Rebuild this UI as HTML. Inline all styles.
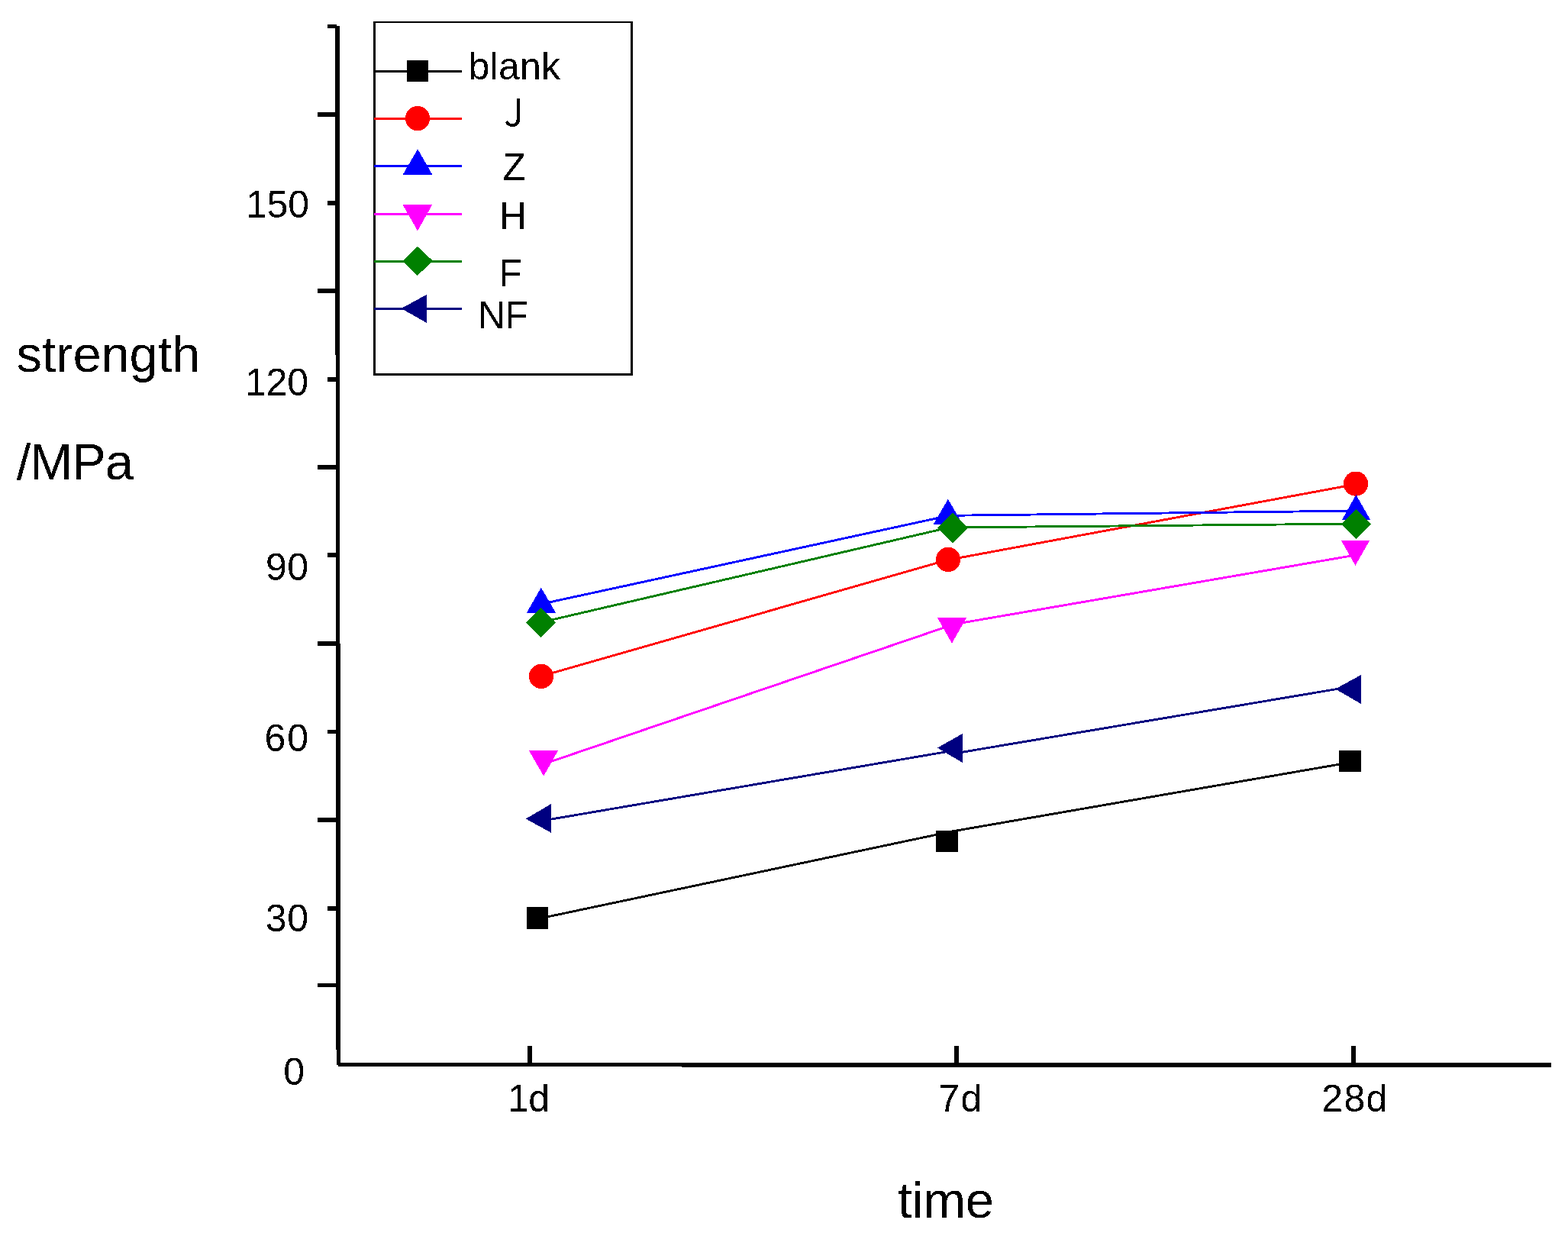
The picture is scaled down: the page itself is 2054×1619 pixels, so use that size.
<!DOCTYPE html>
<html><head><meta charset="utf-8"><title>strength vs time</title>
<style>
html,body{margin:0;padding:0;background:#fff;}
body{width:2054px;height:1619px;overflow:hidden;}
svg{display:block;}
polygon,polyline,line,rect,circle{shape-rendering:crispEdges;}
text{font-family:"Liberation Sans", Arial, Helvetica, sans-serif;fill:#000;filter:url(#bin);}
</style></head>
<body>
<svg width="2054" height="1619" viewBox="0 0 2054 1619">
<defs><filter id="bin" x="0" y="0" width="1" height="1" filterUnits="objectBoundingBox"><feComponentTransfer><feFuncA type="discrete" tableValues="0 1"/></feComponentTransfer></filter></defs>
<rect width="2054" height="1619" fill="#fff"/>
<rect x="439" y="34" width="6" height="431" fill="#000"/>
<rect x="440" y="465" width="5" height="378" fill="#000"/>
<rect x="440" y="843" width="6" height="532" fill="#000"/>
<rect x="441" y="1375" width="5" height="20" fill="#000"/>
<rect x="443" y="1392" width="450" height="5" fill="#000"/>
<rect x="893" y="1392" width="1139" height="6" fill="#000"/>
<rect x="429.3" y="31.70" width="11.70" height="5.6" fill="#000"/>
<rect x="416" y="147.20" width="25.00" height="5.6" fill="#000"/>
<rect x="429.3" y="262.90" width="11.70" height="5.6" fill="#000"/>
<rect x="416" y="378.20" width="25.00" height="5.6" fill="#000"/>
<rect x="429.3" y="494.00" width="11.70" height="5.6" fill="#000"/>
<rect x="416" y="608.90" width="25.00" height="5.6" fill="#000"/>
<rect x="429.3" y="724.20" width="11.70" height="5.6" fill="#000"/>
<rect x="416" y="840.20" width="25.00" height="5.6" fill="#000"/>
<rect x="429.3" y="955.70" width="11.70" height="5.6" fill="#000"/>
<rect x="416" y="1071.20" width="25.00" height="5.6" fill="#000"/>
<rect x="429.3" y="1187.20" width="11.70" height="5.6" fill="#000"/>
<rect x="416" y="1287.80" width="25.00" height="5.6" fill="#000"/>
<rect x="691" y="1370" width="5.9" height="24" fill="#000"/>
<rect x="1250.1" y="1370" width="5.9" height="24" fill="#000"/>
<rect x="1770.1" y="1370" width="5.9" height="24" fill="#000"/>
<rect x="489" y="28" width="340" height="2.2" fill="#000"/>
<rect x="489" y="489.1" width="340" height="2.9" fill="#000"/>
<rect x="489" y="28" width="3" height="464" fill="#000"/>
<rect x="826.1" y="28" width="2.9" height="464" fill="#000"/>
<line x1="492" y1="93.6" x2="604.7" y2="93.6" stroke="#000000" stroke-width="2.9"/>
<rect x="533.2" y="79" width="27.60" height="27.80" fill="#000000"/>
<line x1="490" y1="155.6" x2="604.7" y2="155.6" stroke="#ff0000" stroke-width="2.9"/>
<circle cx="547" cy="155.1" r="16.1" fill="#ff0000"/>
<line x1="490" y1="217.6" x2="605" y2="217.6" stroke="#0000ff" stroke-width="2.9"/>
<polygon points="547.2,195.2 566.2,228.7 527.7,228.7" fill="#0000ff"/>
<line x1="490" y1="280.5" x2="605" y2="280.5" stroke="#ff00ff" stroke-width="2.9"/>
<polygon points="527.7,268.3 566.2,268.3 547.0,302.4" fill="#ff00ff"/>
<line x1="490" y1="342.5" x2="605" y2="342.5" stroke="#008000" stroke-width="2.9"/>
<polygon points="546.8,322.9 567.2,341.9 546.8,360.8 527.7,341.9" fill="#008000"/>
<line x1="490" y1="404.4" x2="605" y2="404.4" stroke="#000080" stroke-width="2.9"/>
<polygon points="525.6,404.0 558.8,385.9 558.8,422.9" fill="#000080"/>
<polyline points="704,1203.7 1246.7,1089.1 1768,998.8" fill="none" stroke="#000000" stroke-width="2.9" stroke-linejoin="miter"/>
<rect x="690" y="1188" width="28.00" height="28.70" fill="#000000"/>
<rect x="1226" y="1088" width="29.00" height="28.00" fill="#000000"/>
<rect x="1754" y="983" width="29.00" height="28.00" fill="#000000"/>
<polyline points="709,885.7 1239.9,733.8 1776,634.3" fill="none" stroke="#ff0000" stroke-width="2.9" stroke-linejoin="miter"/>
<circle cx="709" cy="885.8" r="16.1" fill="#ff0000"/>
<circle cx="1242" cy="732.9" r="16.1" fill="#ff0000"/>
<circle cx="1776" cy="633.6" r="16.1" fill="#ff0000"/>
<polyline points="709,791.2 1243.5,675.3 1776,669.1" fill="none" stroke="#0000ff" stroke-width="2.9" stroke-linejoin="miter"/>
<polygon points="708.8,769.7 728.1,802.8 689.8,802.8" fill="#0000ff"/>
<polygon points="1241.9,653.8 1261.1,686.7 1222.7,686.7" fill="#0000ff"/>
<polygon points="1776.3,648.1 1795.1,680.8 1758.0,680.8" fill="#0000ff"/>
<polyline points="712,1000.8 1249.9,817.6 1775.5,727.1" fill="none" stroke="#ff00ff" stroke-width="2.9" stroke-linejoin="miter"/>
<polygon points="692.8,983.0 731.2,983.0 712.2,1016.6" fill="#ff00ff"/>
<polygon points="1227.9,809.0 1266.2,809.0 1246.9,842.7" fill="#ff00ff"/>
<polygon points="1756.9,708.0 1794.1,708.0 1775.5,740.8" fill="#ff00ff"/>
<polyline points="708.5,815.2 1243.1,691.0 1776.5,686.1" fill="none" stroke="#008000" stroke-width="2.9" stroke-linejoin="miter"/>
<polygon points="708.5,795.7 728.1,815.3 708.5,834.9 688.9,815.3" fill="#008000"/>
<polygon points="1248.0,671.9 1268.0,691.5 1248.0,711.2 1228.0,691.5" fill="#008000"/>
<polygon points="1776.4,667.0 1796.1,686.5 1776.4,705.9 1756.8,686.5" fill="#008000"/>
<polyline points="709,1075.3 1250,983.0" fill="none" stroke="#000080" stroke-width="2.9" stroke-linejoin="miter"/>
<polyline points="1250,987.0 1768,899.7" fill="none" stroke="#000080" stroke-width="2.9" stroke-linejoin="miter"/>
<polygon points="688.8,1072.5 722.0,1053.0 722.0,1090.8" fill="#000080"/>
<polygon points="1228.0,979.6 1260.9,960.9 1260.9,999.0" fill="#000080"/>
<polygon points="1749.2,902.5 1783.0,884.0 1783.0,922.0" fill="#000080"/>
<text x="321.89" y="285.40" font-size="50" letter-spacing="-0.06">150</text>
<text x="320.89" y="518.00" font-size="50" letter-spacing="-0.11">120</text>
<text x="348.01" y="760.22" font-size="50" letter-spacing="0.42">90</text>
<text x="346.44" y="984.42" font-size="50" letter-spacing="2.00">60</text>
<text x="347.67" y="1220.00" font-size="50" letter-spacing="0.76">30</text>
<text x="371.16" y="1420.64" font-size="50">0</text>
<text x="665.09" y="1456.30" font-size="50" letter-spacing="-0.57">1d</text>
<text x="1229.33" y="1456.30" font-size="50" letter-spacing="1.29">7d</text>
<text x="1731.37" y="1456.30" font-size="50" letter-spacing="1.25">28d</text>
<text x="1175.98" y="1595.03" font-size="67" letter-spacing="-0.16">time</text>
<text x="21.51" y="486.85" font-size="67" letter-spacing="-0.18">strength</text>
<text x="21.75" y="628.00" font-size="67" letter-spacing="-1.04">/MPa</text>
<text x="613.43" y="104.10" font-size="50" letter-spacing="0.29">blank</text>
<text x="660.00" y="165.00" font-size="48.6" style="font-family:'Noto Sans CJK SC', 'Liberation Sans', sans-serif">J</text>
<text x="658.31" y="235.80" font-size="50">Z</text>
<text x="653.92" y="300.40" font-size="50">H</text>
<text x="653.62" y="375.00" font-size="50">F</text>
<text x="625.87" y="430.00" font-size="50" letter-spacing="-0.51">NF</text>
</svg>
</body></html>
